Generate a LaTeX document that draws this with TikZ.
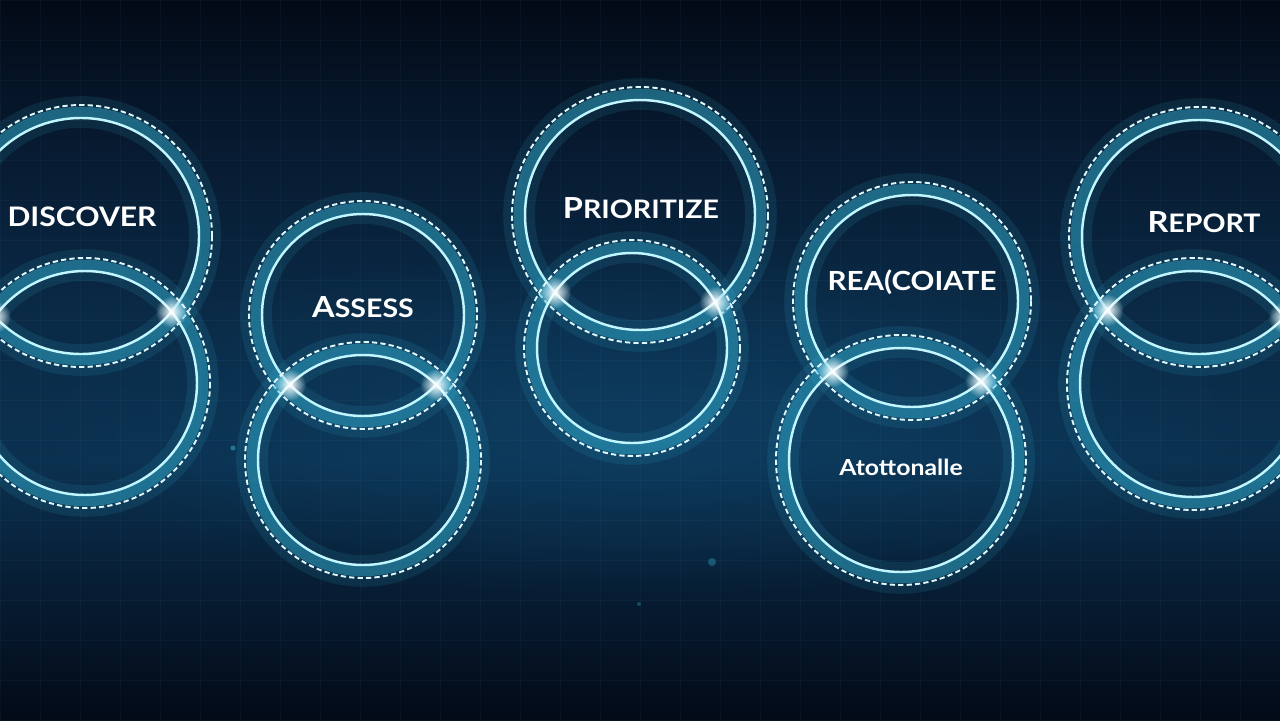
\documentclass[tikz,border=0pt]{standalone}
\usepackage{fontspec}
\setmainfont[FakeStretch=1.12]{Lato}
\usetikzlibrary{intersections,fadings}

\definecolor{bgdark}{HTML}{030A16}
\definecolor{bglow}{HTML}{06182C}
\definecolor{bgmid}{HTML}{0B3150}
\definecolor{bgupper}{HTML}{0A2A46}
\definecolor{bgtop}{HTML}{071A30}
\definecolor{bgglow}{HTML}{12507A}
\definecolor{gridcol}{HTML}{5FA8D0}
\definecolor{ringcol}{HTML}{C2F6FF}
\definecolor{ringglow}{HTML}{36B8DA}
\definecolor{dashcol}{HTML}{DDF8FF}

% visible part of the shading runs from 25bp (bottom) to 75bp (top)
\pgfdeclareverticalshading{bgshade}{100bp}{color(0bp)=(bgdark); color(25bp)=(bgdark); color(32bp)=(bglow); color(43bp)=(bgmid); color(53bp)=(bgupper); color(65bp)=(bgtop); color(75bp)=(bgdark); color(100bp)=(bgdark)}
\tikzfading[name=glowfade, inner color=transparent!0, outer color=transparent!100]

\tikzset{
  glowhaze/.style={draw=ringglow, line width=18pt, opacity=0.12},
  glowband/.style={draw=ringglow, line width=6pt, opacity=0.42},
  ringline/.style={draw=ringcol, line width=1.4pt},
  ringdash/.style={draw=dashcol, line width=1.1pt, dash pattern=on 3pt off 1.8pt},
  spark/.style={fill=white, path fading=glowfade},
  steplabel/.style={text=white, inner sep=0pt, font=\bfseries\fontsize{15.3}{18}\selectfont}
}

% one glowing ring: name, x, y, radius
\newcommand{\glowring}[4]{%
  \draw[glowhaze] (#2,#3) circle (#4+6);
  \draw[glowband] (#2,#3) circle (#4+6);
  \draw[ringline, name path global=#1] (#2,#3) circle (#4);
  \draw[ringdash] (#2,#3) circle (#4+13);
  \coordinate (#1) at (#2,#3);
}
\newcommand{\bigc}{\fontsize{16.5}{18}\selectfont}
\newcommand{\smc}{\fontsize{14.5}{18}\selectfont}

\begin{document}
\begin{tikzpicture}[x=0.02cm, y=-0.02cm]
  \useasboundingbox (0,0) rectangle (1280,720);
  \shade[shading=bgshade] (0,0) rectangle (1280,720);
  \fill[bgglow, path fading=glowfade, opacity=0.4] (640,420) ellipse (620 and 180);
  \clip (0,0) rectangle (1280,720);

  % faint grid
  \foreach \g in {0,40,...,1280}
    \draw[gridcol, opacity=0.05, line width=0.4pt] (\g,0) -- (\g,720);
  \foreach \g in {0,40,...,720}
    \draw[gridcol, opacity=0.05, line width=0.4pt] (0,\g) -- (1280,\g);

  % loose particles
  \fill[ringglow, opacity=0.5] (233,448) circle (2.5);
  \fill[ringglow, opacity=0.35] (712,562) circle (4);
  \fill[ringglow, opacity=0.3] (639,604) circle (2);

  % ring pairs
  \foreach \n/\xa/\ya/\ra/\xb/\yb/\rb in {
      disc/81/236/118/85/383/112,
      assess/363/315/101/363/460/105,
      prio/640/215/115/632/348/95,
      realloc/912/301/106/901/460/112,
      report/1199/237/117/1193/384/113}
  {
    \glowring{\n-top}{\xa}{\ya}{\ra}
    \glowring{\n-bot}{\xb}{\yb}{\rb}
    \path[name intersections={of=\n-top and \n-bot, name=\n-x}];
    \fill[spark] (\n-x-1) circle (16);
    \fill[spark] (\n-x-2) circle (16);
  }

  \node[steplabel] (discL) at (82,217) {DISCOVER};
  \node[steplabel] (assessL) at (363,307) {{\bigc A}{\smc SSESS}};
  \node[steplabel] (prioL) at (641,208) {{\bigc P}{\smc RIORITIZE}};
  \node[steplabel, font=\bfseries\fontsize{15}{18}\selectfont] (reallocL) at (912,282) {REA(COIATE};
  \node[steplabel, font=\bfseries\fontsize{12.6}{14}\selectfont] (autoL) at (901,467) {Atottonalle};
  \node[steplabel] (reportL) at (1204,222) {{\bigc R}{\smc EPORT}};
\end{tikzpicture}
\end{document}
